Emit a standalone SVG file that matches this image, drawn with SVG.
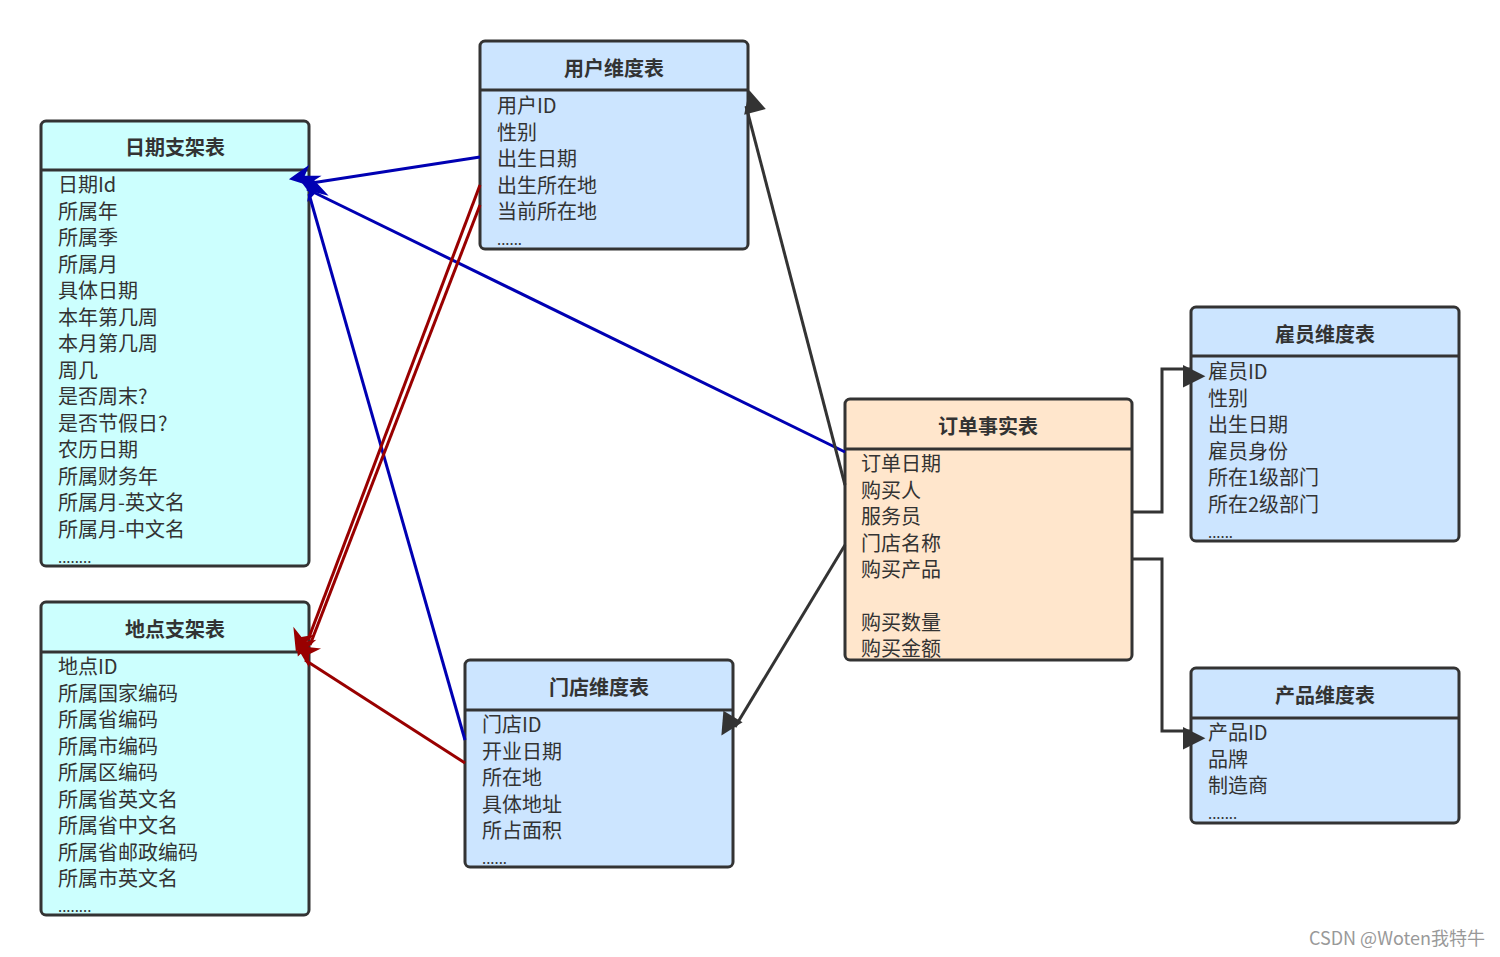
<svg xmlns="http://www.w3.org/2000/svg" width="1500" height="957" viewBox="0 0 1500 957">
<defs>
<style>
text{font-family:"Noto Sans CJK SC","Noto Sans",sans-serif;fill:#333}
.t{font-size:20px;font-weight:bold;text-anchor:middle}
.i{font-size:20px}
.d{font-size:15px}
.box{stroke:#333;stroke-width:3}
.cy{fill:#ccfffe}.bl{fill:#cce5ff}.or{fill:#ffe6cc}
.ln{stroke:#333;stroke-width:3}
.b{stroke:#0000b3;stroke-width:3;fill:none}
.r{stroke:#990000;stroke-width:3;fill:none}
.k{stroke:#333;stroke-width:3;fill:none}
</style>
<marker id="mb" viewBox="0 0 10 10" refX="9" refY="5" markerWidth="8" markerHeight="8" markerUnits="userSpaceOnUse" orient="auto" style="overflow:visible"><path d="M0,0 L10,5 L0,10 L3,5 Z" fill="#0000b3" transform="scale(2.8)"/></marker>
<marker id="mr" viewBox="0 0 10 10" refX="9" refY="5" markerWidth="8" markerHeight="8" markerUnits="userSpaceOnUse" orient="auto" style="overflow:visible"><path d="M0,0 L10,5 L0,10 L3,5 Z" fill="#990000" transform="scale(2.8)"/></marker>
<marker id="mk" viewBox="0 0 10 10" refX="10" refY="5" markerWidth="8" markerHeight="8" markerUnits="userSpaceOnUse" orient="auto" style="overflow:visible"><path d="M0,0 L10,5 L0,10 Z" fill="#333" transform="scale(2.8)"/></marker>
</defs>
<g id="date">
<rect class="box cy" x="41" y="121" width="268" height="445" rx="5"/>
<line class="ln" x1="41" y1="170" x2="309" y2="170"/>
<text class="t" x="175" y="155">日期支架表</text>
<text class="i" x="58" y="192">日期Id</text><text class="i" x="58" y="218.5">所属年</text><text class="i" x="58" y="245">所属季</text><text class="i" x="58" y="271.5">所属月</text><text class="i" x="58" y="298">具体日期</text><text class="i" x="58" y="324.5">本年第几周</text><text class="i" x="58" y="351">本月第几周</text><text class="i" x="58" y="377.5">周几</text><text class="i" x="58" y="404">是否周末?</text><text class="i" x="58" y="430.5">是否节假日?</text><text class="i" x="58" y="457">农历日期</text><text class="i" x="58" y="483.5">所属财务年</text><text class="i" x="58" y="510">所属月-英文名</text><text class="i" x="58" y="536.5">所属月-中文名</text><text class="i d" x="58" y="563">........</text>
</g>
<g id="place">
<rect class="box cy" x="41" y="602" width="268" height="313" rx="5"/>
<line class="ln" x1="41" y1="652" x2="309" y2="652"/>
<text class="t" x="175" y="637">地点支架表</text>
<text class="i" x="58" y="674">地点ID</text><text class="i" x="58" y="700.5">所属国家编码</text><text class="i" x="58" y="727">所属省编码</text><text class="i" x="58" y="753.5">所属市编码</text><text class="i" x="58" y="780">所属区编码</text><text class="i" x="58" y="806.5">所属省英文名</text><text class="i" x="58" y="833">所属省中文名</text><text class="i" x="58" y="859.5">所属省邮政编码</text><text class="i" x="58" y="886">所属市英文名</text><text class="i d" x="58" y="912">........</text>
</g>
<g id="user">
<rect class="box bl" x="480" y="41" width="268" height="208" rx="5"/>
<line class="ln" x1="480" y1="90" x2="748" y2="90"/>
<text class="t" x="614" y="76">用户维度表</text>
<text class="i" x="497" y="113">用户ID</text><text class="i" x="497" y="139.5">性别</text><text class="i" x="497" y="166">出生日期</text><text class="i" x="497" y="192.5">出生所在地</text><text class="i" x="497" y="219">当前所在地</text><text class="i d" x="497" y="245">......</text>
</g>
<g id="store">
<rect class="box bl" x="465" y="660" width="268" height="207" rx="5"/>
<line class="ln" x1="465" y1="710" x2="733" y2="710"/>
<text class="t" x="599" y="695">门店维度表</text>
<text class="i" x="482" y="732">门店ID</text><text class="i" x="482" y="758.5">开业日期</text><text class="i" x="482" y="785">所在地</text><text class="i" x="482" y="811.5">具体地址</text><text class="i" x="482" y="838">所占面积</text><text class="i d" x="482" y="864">......</text>
</g>
<g id="fact">
<rect class="box or" x="845" y="399" width="287" height="261" rx="5"/>
<line class="ln" x1="845" y1="449" x2="1132" y2="449"/>
<text class="t" x="988" y="434">订单事实表</text>
<text class="i" x="861" y="471">订单日期</text><text class="i" x="861" y="497.5">购买人</text><text class="i" x="861" y="524">服务员</text><text class="i" x="861" y="550.5">门店名称</text><text class="i" x="861" y="577">购买产品</text><text class="i" x="861" y="630">购买数量</text><text class="i" x="861" y="656">购买金额</text>
</g>
<g id="employee">
<rect class="box bl" x="1191" y="307" width="268" height="234" rx="5"/>
<line class="ln" x1="1191" y1="356" x2="1459" y2="356"/>
<text class="t" x="1325" y="342">雇员维度表</text>
<text class="i" x="1208" y="379">雇员ID</text><text class="i" x="1208" y="405.5">性别</text><text class="i" x="1208" y="432">出生日期</text><text class="i" x="1208" y="458.5">雇员身份</text><text class="i" x="1208" y="485">所在1级部门</text><text class="i" x="1208" y="511.5">所在2级部门</text><text class="i d" x="1208" y="538">......</text>
</g>
<g id="product">
<rect class="box bl" x="1191" y="668" width="268" height="155" rx="5"/>
<line class="ln" x1="1191" y1="718" x2="1459" y2="718"/>
<text class="t" x="1325" y="703">产品维度表</text>
<text class="i" x="1208" y="740">产品ID</text><text class="i" x="1208" y="766.5">品牌</text><text class="i" x="1208" y="793">制造商</text><text class="i d" x="1208" y="819">.......</text>
</g>
<g id="connectors">
<path class="b" d="M480,157 L305,184" marker-end="url(#mb)"/>
<path class="b" d="M845,452 L307,189" marker-end="url(#mb)"/>
<path class="b" d="M465,740 L309,194" marker-end="url(#mb)"/>
<path class="r" d="M480,185 L308,640" marker-end="url(#mr)"/>
<path class="r" d="M480,205 L310,645" marker-end="url(#mr)"/>
<path class="r" d="M465,763 L305,660" marker-end="url(#mr)"/>
<path class="k" d="M845,485 L746,106" marker-end="url(#mk)"/>
<path class="k" d="M845,545 L735,727" marker-end="url(#mk)"/>
<path class="k" d="M1132,512 H1162 V369 H1191" marker-end="url(#mk)"/>
<path class="k" d="M1132,559 H1162 V731 H1191" marker-end="url(#mk)"/>
</g>
<text x="1485" y="945" style="font-size:18px;fill:#999;text-anchor:end">CSDN @Woten我特牛</text>
</svg>
